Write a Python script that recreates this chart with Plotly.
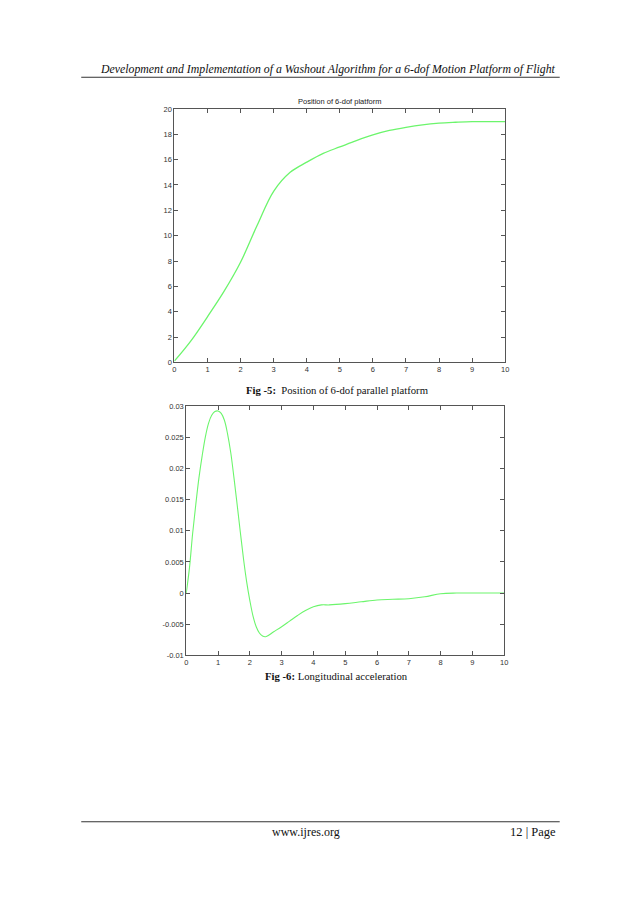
import plotly.graph_objects as go

# ---- data ----
pos_t = [0, 0.5, 1, 1.5, 2, 2.5, 3, 3.5, 4, 4.5, 5, 5.5, 6, 6.5, 7, 7.5, 8, 8.5, 9, 9.5, 10]
pos_y = [0.1, 1.7, 3.6, 5.6, 7.9, 10.8, 13.5, 15.0, 15.8, 16.5, 17.0, 17.5, 17.95, 18.3,
         18.55, 18.75, 18.88, 18.95, 19.0, 19.0, 19.0]

acc_t = [0, 0.1, 0.2, 0.3, 0.4, 0.5, 0.6, 0.7, 0.8, 0.9, 1.0, 1.1, 1.2, 1.3, 1.4, 1.5, 1.6,
         1.7, 1.8, 1.9, 2.0, 2.1, 2.2, 2.3, 2.4, 2.5, 2.75, 3.0, 3.25, 3.5, 3.75, 4.0, 4.25,
         4.5, 5.0, 5.5, 6.0, 6.5, 7.0, 7.5, 8.0, 8.5, 9.0, 9.5, 10]
acc_y = [0, 0.004, 0.0095, 0.0142, 0.0185, 0.0220, 0.0250, 0.0272, 0.0285, 0.0291, 0.0292,
         0.0288, 0.0277, 0.0255, 0.0225, 0.0185, 0.0142, 0.0098, 0.0055, 0.0018, -0.0012,
         -0.0037, -0.0054, -0.0064, -0.0069, -0.0070, -0.0062, -0.0054, -0.0045, -0.0036,
         -0.0028, -0.0022, -0.0019, -0.0019, -0.0017, -0.0014, -0.0011, -0.0010, -0.0009,
         -0.0006, -0.0001, 0, 0, 0, 0]

x_ticks = list(range(0, 11))
pos_ticks = list(range(0, 21, 2))
acc_ticks = [-0.01, -0.005, 0, 0.005, 0.01, 0.015, 0.02, 0.025, 0.03]
acc_labels = ["-0.01", "-0.005", "0", "0.005", "0.01", "0.015", "0.02", "0.025", "0.03"]

W, H = 638, 902
GREEN = "#6cf56c"
AX = "#555555"
TICKFONT = dict(family="Arial, Liberation Sans", size=7.5, color="#333333")


def px_x(p):
    return p / W


def px_y(p):
    return 1 - p / H


fig = go.Figure()
fig.add_trace(go.Scatter(x=pos_t, y=pos_y, mode="lines", line=dict(color=GREEN, width=1.3, shape="spline"),
                         xaxis="x", yaxis="y", showlegend=False))
fig.add_trace(go.Scatter(x=acc_t, y=acc_y, mode="lines", line=dict(color=GREEN, width=1.1, shape="spline"),
                         xaxis="x2", yaxis="y2", showlegend=False))

axis_common = dict(showline=True, linecolor=AX, linewidth=1, mirror="ticks", ticks="inside",
                   ticklen=4, tickcolor=AX, showgrid=False, zeroline=False, tickfont=TICKFONT,
                   fixedrange=True)

fig.update_layout(
    width=W, height=H,
    margin=dict(l=0, r=0, t=0, b=0),
    paper_bgcolor="white", plot_bgcolor="white",
    xaxis=dict(domain=[px_x(174), px_x(508)], range=[0, 10], tickvals=x_ticks, anchor="y", **axis_common),
    yaxis=dict(domain=[px_y(362), px_y(106)], range=[0, 20], tickvals=pos_ticks, anchor="x", **axis_common),
    xaxis2=dict(domain=[px_x(186), px_x(507)], range=[0, 10], tickvals=x_ticks, anchor="y2", **axis_common),
    yaxis2=dict(domain=[px_y(658), px_y(406)], range=[-0.01, 0.03], tickvals=acc_ticks,
                ticktext=acc_labels, anchor="x2", **axis_common),
    shapes=[
        dict(type="line", xref="paper", yref="paper", x0=px_x(80), x1=px_x(563), y0=px_y(74), y1=px_y(74),
             line=dict(color="#333333", width=1)),
        dict(type="line", xref="paper", yref="paper", x0=px_x(80), x1=px_x(563), y0=px_y(826), y1=px_y(826),
             line=dict(color="#333333", width=1)),
    ],
    annotations=[
        dict(text="<i>Development and Implementation of a Washout Algorithm for a 6-dof Motion Platform of Flight</i>",
             xref="paper", yref="paper", x=px_x(561), y=px_y(66), xanchor="right", yanchor="middle",
             showarrow=False, font=dict(family="Liberation Serif", size=11.8, color="#111111")),
        dict(text="Position of 6-dof platform", xref="paper", yref="paper", x=px_x(341), y=px_y(98),
             xanchor="center", yanchor="middle", showarrow=False,
             font=dict(family="Arial, Liberation Sans", size=7.5, color="#222222")),
        dict(text="<b>Fig -5:</b>  Position of 6-dof parallel platform", xref="paper", yref="paper",
             x=px_x(339), y=px_y(390), xanchor="center", yanchor="middle", showarrow=False,
             font=dict(family="Liberation Serif", size=10.7, color="#111111")),
        dict(text="<b>Fig -6:</b> Longitudinal acceleration", xref="paper", yref="paper",
             x=px_x(338), y=px_y(679), xanchor="center", yanchor="middle", showarrow=False,
             font=dict(family="Liberation Serif", size=10.7, color="#111111")),
        dict(text="www.ijres.org", xref="paper", yref="paper", x=px_x(307), y=px_y(836),
             xanchor="center", yanchor="middle", showarrow=False,
             font=dict(family="Liberation Serif", size=12, color="#111111")),
        dict(text="12 | Page", xref="paper", yref="paper", x=px_x(561), y=px_y(836),
             xanchor="right", yanchor="middle", showarrow=False,
             font=dict(family="Liberation Serif", size=12.5, color="#111111")),
    ],
)

fig.write_html("out.html", config={"displayModeBar": False},
               post_script="document.body.style.margin='0';")
